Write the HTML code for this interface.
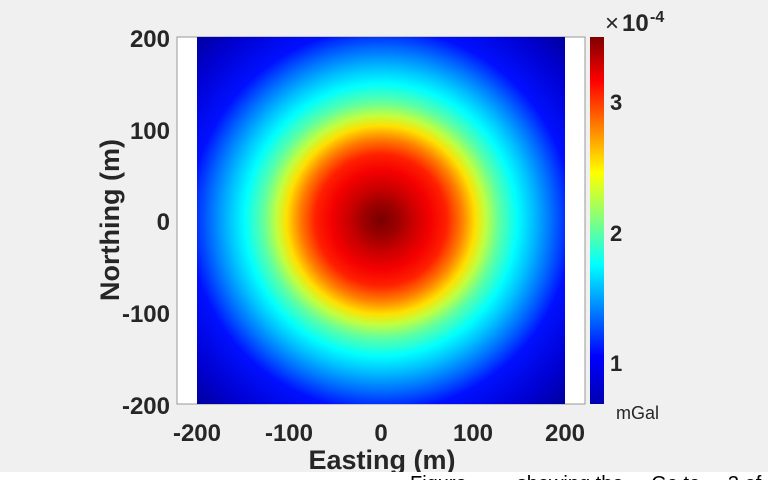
<!DOCTYPE html>
<html><head><style>
html,body{margin:0;padding:0;background:#f0f0f0;width:768px;height:480px;overflow:hidden}
svg{display:block}
text{font-family:"Liberation Sans",Arial,sans-serif;font-weight:bold;fill:#262626}
</style></head><body>
<svg width="768" height="480" viewBox="0 0 768 480">
<defs>
<radialGradient id="rg" gradientUnits="userSpaceOnUse" cx="381" cy="220" r="262">
<stop offset="0" stop-color="#7a0000"/>
<stop offset="0.06" stop-color="#990000"/>
<stop offset="0.12" stop-color="#c80000"/>
<stop offset="0.19" stop-color="#f50000"/>
<stop offset="0.25" stop-color="#ff2000"/>
<stop offset="0.31" stop-color="#ff8000"/>
<stop offset="0.36" stop-color="#ffe000"/>
<stop offset="0.40" stop-color="#c0ff40"/>
<stop offset="0.45" stop-color="#60ffa0"/>
<stop offset="0.52" stop-color="#00ffff"/>
<stop offset="0.58" stop-color="#00c0ff"/>
<stop offset="0.65" stop-color="#0070ff"/>
<stop offset="0.73" stop-color="#0010ff"/>
<stop offset="0.88" stop-color="#0000d0"/>
<stop offset="1" stop-color="#00009a"/>
</radialGradient>
<linearGradient id="cb" x1="0" y1="0" x2="0" y2="1">
<stop offset="0" stop-color="#800000"/>
<stop offset="0.12" stop-color="#ff0000"/>
<stop offset="0.37" stop-color="#ffff00"/>
<stop offset="0.5" stop-color="#80ff80"/>
<stop offset="0.62" stop-color="#00ffff"/>
<stop offset="0.87" stop-color="#0000ff"/>
<stop offset="1" stop-color="#0000b0"/>
</linearGradient>
</defs>
<rect x="177" y="37" width="408" height="367" fill="#fff" stroke="#999" stroke-width="1"/>
<rect x="197" y="37" width="368" height="367" fill="url(#rg)"/>
<rect x="590" y="37" width="14" height="367" fill="url(#cb)"/>
<g font-size="24" text-anchor="end">
<text x="170" y="47">200</text>
<text x="170" y="139">100</text>
<text x="170" y="230">0</text>
<text x="170" y="322">-100</text>
<text x="170" y="414">-200</text>
</g>
<g font-size="24" text-anchor="middle">
<text x="197" y="441">-200</text>
<text x="289" y="441">-100</text>
<text x="381" y="441">0</text>
<text x="473" y="441">100</text>
<text x="565" y="441">200</text>
</g>
<text x="382" y="469" font-size="27" text-anchor="middle">Easting (m)</text>
<text transform="translate(119,220) rotate(-90)" font-size="27" text-anchor="middle">Northing (m)</text>
<g font-size="22">
<text x="610" y="110">3</text>
<text x="610" y="241">2</text>
<text x="610" y="371">1</text>
</g>
<text x="605" y="31" font-size="24" style="font-weight:normal">×</text>
<text x="622" y="31" font-size="24">10</text>
<text x="650" y="22" font-size="16">-4</text>
<text x="616" y="419" font-size="18" style="font-weight:normal">mGal</text>
<rect x="0" y="472" width="768" height="8" fill="#fff"/>
<text x="410" y="490" font-size="20" style="font-weight:normal;fill:#000">Figure ... ... showing the ... Go to ... 3 of 10</text>
</svg>
</body></html>
